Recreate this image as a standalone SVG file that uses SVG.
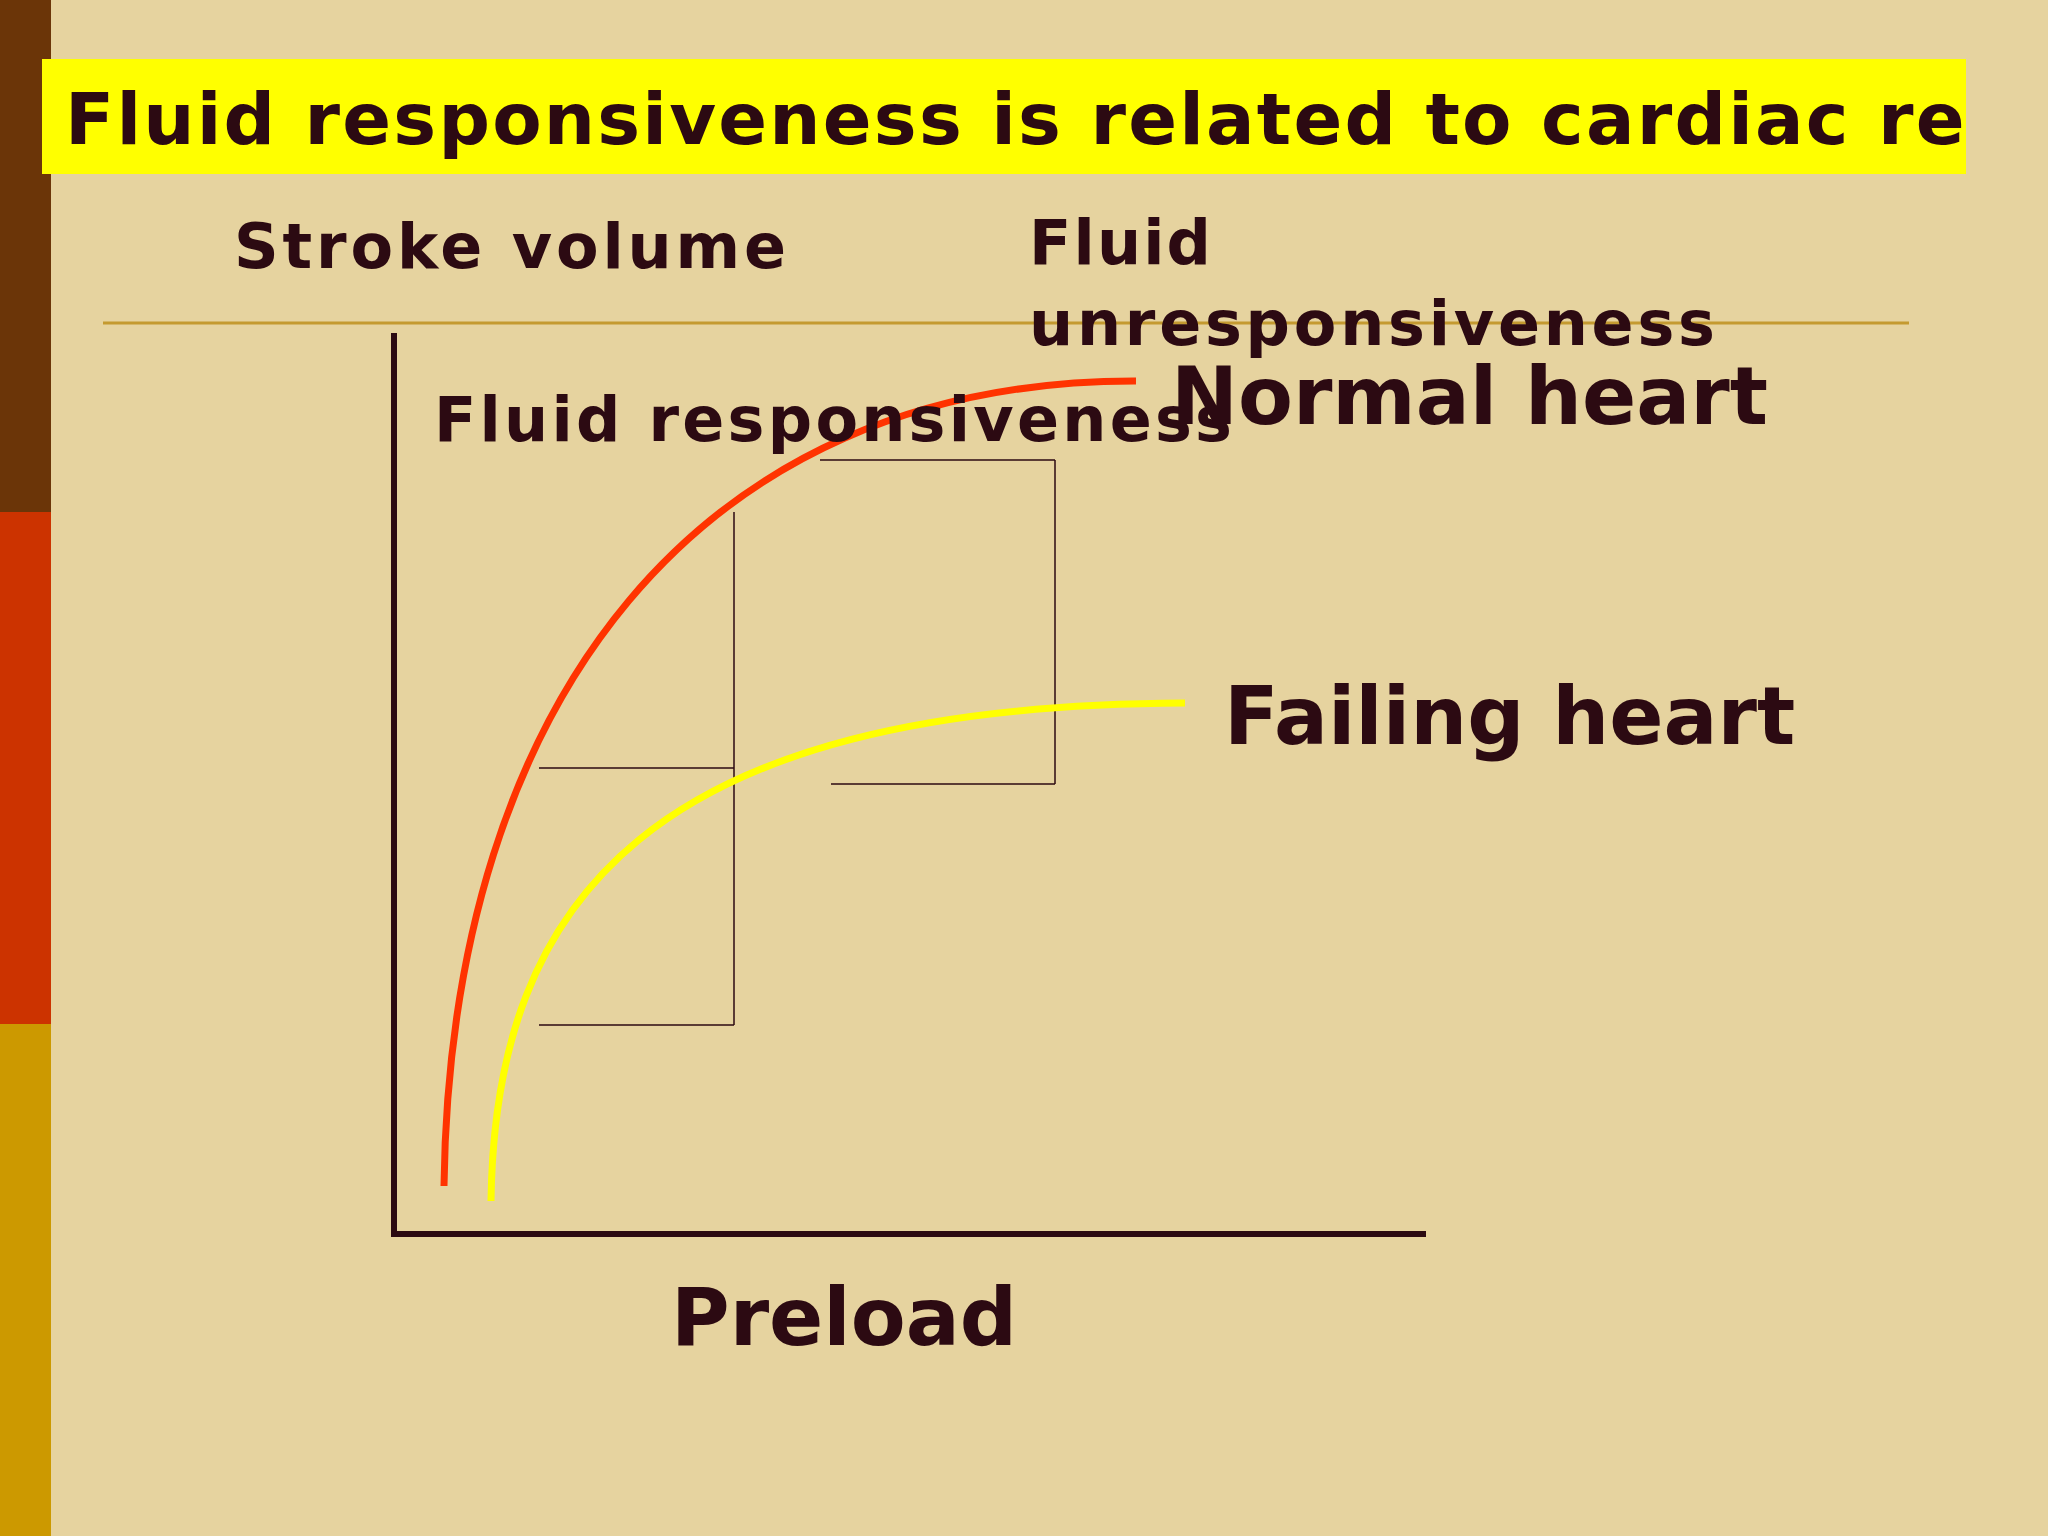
<svg xmlns="http://www.w3.org/2000/svg" width="2048" height="1536" viewBox="0 0 2048 1536">
<style>
.t{font-family:"DejaVu Sans",Verdana,sans-serif;font-weight:bold;fill:#2c0a12}
.thin{stroke:#2c0a12;stroke-width:1.5;fill:none}
</style>
<defs><clipPath id="tc"><rect x="42" y="59" width="1924" height="115"/></clipPath></defs>
<rect width="2048" height="1536" fill="#e6d39f"/>
<rect x="0" y="0" width="51" height="512" fill="#6b3508"/>
<rect x="0" y="512" width="51" height="512" fill="#cc3300"/>
<rect x="0" y="1024" width="51" height="512" fill="#cc9900"/>
<g id="title"><rect x="42" y="59" width="1924" height="115" fill="#ffff00"/>
<text class="t" x="65" y="144" font-size="72" letter-spacing="2.2" clip-path="url(#tc)">Fluid responsiveness is related to cardiac response</text></g>
<line x1="103" y1="323" x2="1909" y2="323" stroke="#c49a30" stroke-width="3"/>
<g id="axes"><line x1="394" y1="333" x2="394" y2="1237" stroke="#2c0a12" stroke-width="6"/>
<line x1="391" y1="1234" x2="1426" y2="1234" stroke="#2c0a12" stroke-width="6"/></g>
<g id="boxes">
<path class="thin" d="M539 768H734M734 512V1025M539 1025H734"/>
<path class="thin" d="M820 460H1055M1055 460V784M831 784H1055"/>
</g>
<g id="curves">
<path d="M444 1186 C450 700 700 380 1136 381" stroke="#ff3300" stroke-width="7" fill="none"/>
<path d="M491 1201 C495 900 650 705 1185 703" stroke="#ffff00" stroke-width="7" fill="none"/>
</g>
<g id="labels">
<text class="t" x="234" y="268" font-size="62" textLength="552" lengthAdjust="spacing">Stroke volume</text>
<text class="t" x="1029" y="264" font-size="62" textLength="182" lengthAdjust="spacing">Fluid</text>
<text class="t" x="1029" y="345" font-size="62" textLength="686" lengthAdjust="spacing">unresponsiveness</text>
<text class="t" x="434" y="441" font-size="62" textLength="798" lengthAdjust="spacing">Fluid responsiveness</text>
<text class="t" x="1171" y="424" font-size="80">Normal heart</text>
<text class="t" x="1224" y="744" font-size="80">Failing heart</text>
<text class="t" x="671" y="1345" font-size="80">Preload</text>
</g>
</svg>
